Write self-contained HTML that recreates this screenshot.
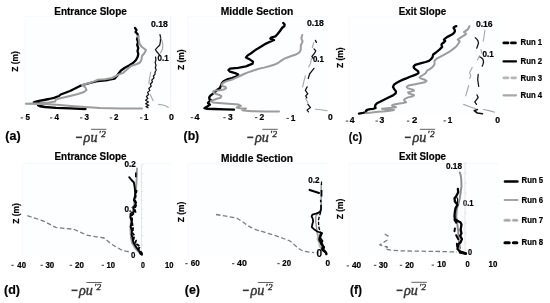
<!DOCTYPE html>
<html><head><meta charset="utf-8"><title>Figure</title>
<style>
html,body{margin:0;padding:0;background:#fff;}
svg{display:block;}
text{font-family:"Liberation Sans",sans-serif;font-weight:bold;fill:#000;stroke:#000;stroke-width:0.2px;}
.t{font-size:10.2px;}
.ax{font-size:8.3px;}
.zl{font-size:8.6px;}
.zt{font-size:8.6px;}
.pl{font-size:12.8px;}
.lg{font-size:8.4px;}
.f{font-family:"Liberation Serif",serif;font-style:italic;font-weight:normal;fill:#333;stroke:#333;stroke-width:0.4px;}
polyline,path,line{fill:none;stroke-linejoin:round;}
.k2,.g4,.k5,.g6{stroke-linecap:round;}
.k2{stroke:#000;stroke-width:2.3;}
.g4{stroke:#9c9c9c;stroke-width:2;}
.k1{stroke:#111;stroke-width:1.25;stroke-linecap:round;}
.g3{stroke:#a9a9a9;stroke-width:1.15;stroke-linecap:round;}
.k5{stroke:#000;stroke-width:1.7;}
.g6{stroke:#9a9a9a;stroke-width:1.5;}
.g7{stroke:#7c7c7c;stroke-width:1.3;stroke-dasharray:4.5 2.5;stroke-linecap:butt;}
.k8{stroke:#000;stroke-width:1.8;stroke-dasharray:3.5 1.5;stroke-linecap:butt;}
.axl{stroke:#d9d9d9;stroke-width:0.7;stroke-linecap:butt;}
.bg{fill:none;stroke:#f4f7fb;stroke-width:0.8;}
</style></head><body>
<svg width="550" height="303" viewBox="0 0 550 303">
<rect x="0" y="0" width="550" height="303" fill="#ffffff"/>

<rect x="25.2" y="16.4" width="147" height="93" fill="#fdfeff"/>
<polyline class="bg" points="25.2,109.4 25.2,16.4 172.2,16.4"/>
<rect x="188" y="16.4" width="140" height="95.5" fill="#fdfeff"/>
<polyline class="bg" points="188,111.9 188,16.4 328,16.4"/>
<rect x="349" y="17" width="148" height="97" fill="#fdfeff"/>
<polyline class="bg" points="349,114 349,17 497,17"/>
<rect x="22.4" y="163.6" width="150" height="93" fill="#fdfeff"/>
<polyline class="bg" points="22.4,256.6 22.4,163.6 172.4,163.6"/>
<rect x="188" y="163.6" width="140" height="93" fill="#fdfeff"/>
<polyline class="bg" points="188,256.6 188,163.6 328,163.6"/>
<rect x="349" y="163.6" width="150" height="93" fill="#fdfeff"/>
<polyline class="bg" points="349,256.6 349,163.6 499,163.6"/>
<text class="t" x="54.3" y="14.5" textLength="72.5" lengthAdjust="spacingAndGlyphs">Entrance Slope</text>
<text class="t" x="220.8" y="14.5" textLength="72.4" lengthAdjust="spacingAndGlyphs">Middle Section</text>
<text class="t" x="398.8" y="14.5" textLength="47.4" lengthAdjust="spacingAndGlyphs">Exit Slope</text>
<text class="t" x="54.5" y="159.8" textLength="72" lengthAdjust="spacingAndGlyphs">Entrance Slope</text>
<text class="t" x="221" y="161.8" textLength="72" lengthAdjust="spacingAndGlyphs">Middle Section</text>
<text class="t" x="399" y="160.4" textLength="47" lengthAdjust="spacingAndGlyphs">Exit Slope</text>
<text class="zl" transform="translate(15.2,61.4) rotate(-90)" text-anchor="middle" textLength="20.5" lengthAdjust="spacingAndGlyphs" y="3">Z (m)</text>
<text class="zl" transform="translate(180.8,59.7) rotate(-90)" text-anchor="middle" textLength="20.5" lengthAdjust="spacingAndGlyphs" y="3">Z (m)</text>
<text class="zl" transform="translate(340.2,57.7) rotate(-90)" text-anchor="middle" textLength="20.5" lengthAdjust="spacingAndGlyphs" y="3">Z (m)</text>
<text class="zl" transform="translate(15.5,213.5) rotate(-90)" text-anchor="middle" textLength="20.5" lengthAdjust="spacingAndGlyphs" y="3">Z (m)</text>
<text class="zl" transform="translate(180.6,212) rotate(-90)" text-anchor="middle" textLength="20.5" lengthAdjust="spacingAndGlyphs" y="3">Z (m)</text>
<text class="zl" transform="translate(340,209) rotate(-90)" text-anchor="middle" textLength="20.5" lengthAdjust="spacingAndGlyphs" y="3">Z (m)</text>
<line x1="20.6" y1="117.9" x2="23" y2="117.9" stroke="#222" stroke-width="0.9" stroke-linecap="butt"/>
<text class="ax" x="25.5" y="120.2" textLength="4.5" lengthAdjust="spacingAndGlyphs">5</text>
<line x1="50" y1="117.9" x2="52.4" y2="117.9" stroke="#222" stroke-width="0.9" stroke-linecap="butt"/>
<text class="ax" x="54.5" y="120.2" textLength="4.5" lengthAdjust="spacingAndGlyphs">4</text>
<line x1="80" y1="117.9" x2="82.4" y2="117.9" stroke="#222" stroke-width="0.9" stroke-linecap="butt"/>
<text class="ax" x="84.5" y="120.2" textLength="4.5" lengthAdjust="spacingAndGlyphs">3</text>
<line x1="109.8" y1="117.9" x2="112.2" y2="117.9" stroke="#222" stroke-width="0.9" stroke-linecap="butt"/>
<text class="ax" x="114" y="120.2" textLength="4.4" lengthAdjust="spacingAndGlyphs">2</text>
<line x1="140" y1="117.9" x2="142.4" y2="117.9" stroke="#222" stroke-width="0.9" stroke-linecap="butt"/>
<text class="ax" x="143.9" y="120.2" textLength="4.4" lengthAdjust="spacingAndGlyphs">1</text>
<text class="ax" x="168.9" y="120.2" textLength="4.9" lengthAdjust="spacingAndGlyphs">0</text>
<line x1="190.7" y1="117.7" x2="193.1" y2="117.7" stroke="#222" stroke-width="0.9" stroke-linecap="butt"/>
<text class="ax" x="194.6" y="120" textLength="5" lengthAdjust="spacingAndGlyphs">4</text>
<line x1="223.3" y1="117.7" x2="225.7" y2="117.7" stroke="#222" stroke-width="0.9" stroke-linecap="butt"/>
<text class="ax" x="227.9" y="120" textLength="4.7" lengthAdjust="spacingAndGlyphs">3</text>
<line x1="255" y1="117.7" x2="257.4" y2="117.7" stroke="#222" stroke-width="0.9" stroke-linecap="butt"/>
<text class="ax" x="259.4" y="120" textLength="4.7" lengthAdjust="spacingAndGlyphs">2</text>
<line x1="286.5" y1="118.4" x2="288.9" y2="118.4" stroke="#222" stroke-width="0.9" stroke-linecap="butt"/>
<text class="ax" x="290.8" y="120.7" textLength="4.6" lengthAdjust="spacingAndGlyphs">1</text>
<text class="ax" x="327.9" y="120" textLength="4.7" lengthAdjust="spacingAndGlyphs">0</text>
<line x1="345.8" y1="121.1" x2="348.2" y2="121.1" stroke="#222" stroke-width="0.9" stroke-linecap="butt"/>
<text class="ax" x="349.7" y="123.4" textLength="4.8" lengthAdjust="spacingAndGlyphs">4</text>
<line x1="375.5" y1="121.1" x2="377.9" y2="121.1" stroke="#222" stroke-width="0.9" stroke-linecap="butt"/>
<text class="ax" x="379.4" y="123.4" textLength="4.8" lengthAdjust="spacingAndGlyphs">3</text>
<line x1="406.9" y1="121.1" x2="409.3" y2="121.1" stroke="#222" stroke-width="0.9" stroke-linecap="butt"/>
<text class="ax" x="411.9" y="123.4" textLength="5.3" lengthAdjust="spacingAndGlyphs">2</text>
<line x1="443.5" y1="120.9" x2="445.9" y2="120.9" stroke="#222" stroke-width="0.9" stroke-linecap="butt"/>
<text class="ax" x="447.8" y="123.2" textLength="4.5" lengthAdjust="spacingAndGlyphs">1</text>
<text class="ax" x="495.3" y="123.2" textLength="4.8" lengthAdjust="spacingAndGlyphs">0</text>
<line x1="11.3" y1="265.3" x2="13.7" y2="265.3" stroke="#222" stroke-width="0.9" stroke-linecap="butt"/>
<text class="ax" x="17.3" y="267.6" textLength="8.7" lengthAdjust="spacingAndGlyphs">40</text>
<line x1="40.5" y1="265.3" x2="42.9" y2="265.3" stroke="#222" stroke-width="0.9" stroke-linecap="butt"/>
<text class="ax" x="45.4" y="267.6" textLength="8.8" lengthAdjust="spacingAndGlyphs">30</text>
<line x1="69.7" y1="265.3" x2="72.1" y2="265.3" stroke="#222" stroke-width="0.9" stroke-linecap="butt"/>
<text class="ax" x="75" y="267.6" textLength="8.9" lengthAdjust="spacingAndGlyphs">20</text>
<line x1="101.6" y1="265.3" x2="104" y2="265.3" stroke="#222" stroke-width="0.9" stroke-linecap="butt"/>
<text class="ax" x="106.5" y="267.6" textLength="8.5" lengthAdjust="spacingAndGlyphs">10</text>
<text class="ax" x="140.9" y="267.6" textLength="3.9" lengthAdjust="spacingAndGlyphs">0</text>
<text class="ax" x="165" y="267.6" textLength="8.4" lengthAdjust="spacingAndGlyphs">10</text>
<line x1="185.3" y1="263.7" x2="187.7" y2="263.7" stroke="#222" stroke-width="0.9" stroke-linecap="butt"/>
<text class="ax" x="190.7" y="266" textLength="9.1" lengthAdjust="spacingAndGlyphs">60</text>
<line x1="232" y1="263.7" x2="234.4" y2="263.7" stroke="#222" stroke-width="0.9" stroke-linecap="butt"/>
<text class="ax" x="237" y="266" textLength="9.8" lengthAdjust="spacingAndGlyphs">40</text>
<line x1="277.3" y1="263.7" x2="279.7" y2="263.7" stroke="#222" stroke-width="0.9" stroke-linecap="butt"/>
<text class="ax" x="282.3" y="266" textLength="8.7" lengthAdjust="spacingAndGlyphs">20</text>
<text class="ax" x="325.4" y="266" textLength="4.6" lengthAdjust="spacingAndGlyphs">0</text>
<line x1="346.6" y1="265.9" x2="349" y2="265.9" stroke="#222" stroke-width="0.9" stroke-linecap="butt"/>
<text class="ax" x="351.9" y="268.2" textLength="9.2" lengthAdjust="spacingAndGlyphs">40</text>
<line x1="373.9" y1="265.3" x2="376.3" y2="265.3" stroke="#222" stroke-width="0.9" stroke-linecap="butt"/>
<text class="ax" x="378.8" y="267.6" textLength="9.1" lengthAdjust="spacingAndGlyphs">30</text>
<line x1="399.8" y1="265.3" x2="402.2" y2="265.3" stroke="#222" stroke-width="0.9" stroke-linecap="butt"/>
<text class="ax" x="405.2" y="267.6" textLength="8.8" lengthAdjust="spacingAndGlyphs">20</text>
<line x1="431.6" y1="265.1" x2="434" y2="265.1" stroke="#222" stroke-width="0.9" stroke-linecap="butt"/>
<text class="ax" x="437.3" y="267.4" textLength="8.7" lengthAdjust="spacingAndGlyphs">10</text>
<text class="ax" x="465.4" y="267.4" textLength="4.2" lengthAdjust="spacingAndGlyphs">0</text>
<text class="ax" x="488.5" y="267.4" textLength="8.8" lengthAdjust="spacingAndGlyphs">10</text>
<text class="ax zt" x="150.9" y="26.8" textLength="16.9" lengthAdjust="spacingAndGlyphs">0.18</text>
<text class="ax zt" x="157.5" y="60.7" textLength="11.2" lengthAdjust="spacingAndGlyphs">0.1</text>
<text class="ax zt" x="307" y="25.9" textLength="16.9" lengthAdjust="spacingAndGlyphs">0.18</text>
<text class="ax zt" x="312.9" y="62.4" textLength="11" lengthAdjust="spacingAndGlyphs">0.1</text>
<text class="ax zt" x="475.9" y="26.8" textLength="16.7" lengthAdjust="spacingAndGlyphs">0.16</text>
<text class="ax zt" x="482.6" y="56.6" textLength="11.2" lengthAdjust="spacingAndGlyphs">0.1</text>
<text class="ax zt" x="124.6" y="167" textLength="11.3" lengthAdjust="spacingAndGlyphs">0.2</text>
<text class="ax zt" x="124.6" y="212.3" textLength="11.3" lengthAdjust="spacingAndGlyphs">0.1</text>
<text class="ax" style="font-size:9.2px" x="131.1" y="258.2" textLength="4.4" lengthAdjust="spacingAndGlyphs">0</text>
<text class="ax zt" x="308.3" y="183.3" textLength="11.2" lengthAdjust="spacingAndGlyphs">0.2</text>
<text class="ax" style="font-size:10.6px" x="316.5" y="257.3" textLength="5.6" lengthAdjust="spacingAndGlyphs">0</text>
<text class="ax zt" x="446" y="169.4" textLength="16" lengthAdjust="spacingAndGlyphs">0.18</text>
<text class="ax zt" x="463" y="206.4" textLength="10.6" lengthAdjust="spacingAndGlyphs">0.1</text>
<text class="ax zt" x="467.9" y="255.3" textLength="4.1" lengthAdjust="spacingAndGlyphs">0</text>
<text class="pl" x="5.3" y="140.4" textLength="15.3" lengthAdjust="spacingAndGlyphs">(a)</text>
<text class="pl" x="183.6" y="140.4" textLength="15.6" lengthAdjust="spacingAndGlyphs">(b)</text>
<text class="pl" x="348.8" y="140.6" textLength="13.2" lengthAdjust="spacingAndGlyphs">(c)</text>
<text class="pl" x="4" y="294.4" textLength="16" lengthAdjust="spacingAndGlyphs">(d)</text>
<text class="pl" x="184.8" y="294.4" textLength="15.2" lengthAdjust="spacingAndGlyphs">(e)</text>
<text class="pl" x="350" y="294.4" textLength="12" lengthAdjust="spacingAndGlyphs">(f)</text>
<g transform="translate(75.6,141.7)"><text class="f" x="-0.3" y="0" font-size="14.2" textLength="7.6" lengthAdjust="spacingAndGlyphs" style="stroke-width:0.9px">−</text><text class="f" x="8" y="0" font-size="14.2">ρ</text><text class="f" x="14.8" y="0" font-size="14.2">u</text><text class="f" x="23.2" y="-4.6" font-size="9.2">′</text><text class="f" x="25.6" y="-4.6" font-size="9.2">2</text><line x1="15.4" y1="-12.4" x2="30.8" y2="-12.4" stroke="#3a3a3a" stroke-width="0.8" stroke-linecap="butt"/></g>
<g transform="translate(246.9,141.7)"><text class="f" x="-0.3" y="0" font-size="14.2" textLength="7.6" lengthAdjust="spacingAndGlyphs" style="stroke-width:0.9px">−</text><text class="f" x="8" y="0" font-size="14.2">ρ</text><text class="f" x="14.8" y="0" font-size="14.2">u</text><text class="f" x="23.2" y="-4.6" font-size="9.2">′</text><text class="f" x="25.6" y="-4.6" font-size="9.2">2</text><line x1="15.4" y1="-12.4" x2="30.8" y2="-12.4" stroke="#3a3a3a" stroke-width="0.8" stroke-linecap="butt"/></g>
<g transform="translate(404.4,141.7)"><text class="f" x="-0.3" y="0" font-size="14.2" textLength="7.6" lengthAdjust="spacingAndGlyphs" style="stroke-width:0.9px">−</text><text class="f" x="8" y="0" font-size="14.2">ρ</text><text class="f" x="14.8" y="0" font-size="14.2">u</text><text class="f" x="23.2" y="-4.6" font-size="9.2">′</text><text class="f" x="25.6" y="-4.6" font-size="9.2">2</text><line x1="15.4" y1="-12.4" x2="30.8" y2="-12.4" stroke="#3a3a3a" stroke-width="0.8" stroke-linecap="butt"/></g>
<g transform="translate(71,294.9)"><text class="f" x="-0.3" y="0" font-size="14.2" textLength="7.6" lengthAdjust="spacingAndGlyphs" style="stroke-width:0.9px">−</text><text class="f" x="8" y="0" font-size="14.2">ρ</text><text class="f" x="14.8" y="0" font-size="14.2">u</text><text class="f" x="23.2" y="-4.6" font-size="9.2">′</text><text class="f" x="25.6" y="-4.6" font-size="9.2">2</text><line x1="15.4" y1="-12.4" x2="30.8" y2="-12.4" stroke="#3a3a3a" stroke-width="0.8" stroke-linecap="butt"/></g>
<g transform="translate(242.4,294.9)"><text class="f" x="-0.3" y="0" font-size="14.2" textLength="7.6" lengthAdjust="spacingAndGlyphs" style="stroke-width:0.9px">−</text><text class="f" x="8" y="0" font-size="14.2">ρ</text><text class="f" x="14.8" y="0" font-size="14.2">u</text><text class="f" x="23.2" y="-4.6" font-size="9.2">′</text><text class="f" x="25.6" y="-4.6" font-size="9.2">2</text><line x1="15.4" y1="-12.4" x2="30.8" y2="-12.4" stroke="#3a3a3a" stroke-width="0.8" stroke-linecap="butt"/></g>
<g transform="translate(396,294.7)"><text class="f" x="-0.3" y="0" font-size="14.2" textLength="7.6" lengthAdjust="spacingAndGlyphs" style="stroke-width:0.9px">−</text><text class="f" x="8" y="0" font-size="14.2">ρ</text><text class="f" x="14.8" y="0" font-size="14.2">u</text><text class="f" x="23.2" y="-4.6" font-size="9.2">′</text><text class="f" x="25.6" y="-4.6" font-size="9.2">2</text><line x1="15.4" y1="-12.4" x2="30.8" y2="-12.4" stroke="#3a3a3a" stroke-width="0.8" stroke-linecap="butt"/></g>
<line class="axl" x1="170.6" y1="16.4" x2="170.6" y2="109" style="stroke:#ebeff4"/>
<line class="axl" x1="141.4" y1="165.5" x2="141.4" y2="256"/>
<line class="axl" x1="141.4" y1="164.7" x2="143.2" y2="164.7"/>
<line class="axl" x1="141.4" y1="173.6" x2="143.2" y2="173.6"/>
<line class="axl" x1="141.4" y1="182.5" x2="143.2" y2="182.5"/>
<line class="axl" x1="141.4" y1="191.4" x2="143.2" y2="191.4"/>
<line class="axl" x1="141.4" y1="200.3" x2="143.2" y2="200.3"/>
<line class="axl" x1="141.4" y1="209.2" x2="143.2" y2="209.2"/>
<line class="axl" x1="141.4" y1="218.1" x2="143.2" y2="218.1"/>
<line class="axl" x1="141.4" y1="227" x2="143.2" y2="227"/>
<line class="axl" x1="141.4" y1="235.9" x2="143.2" y2="235.9"/>
<line class="axl" x1="141.4" y1="244.8" x2="143.2" y2="244.8"/>
<line class="axl" x1="465" y1="163" x2="465" y2="255"/>
<line class="axl" x1="465" y1="163" x2="466.8" y2="163"/>
<line class="axl" x1="465" y1="173" x2="466.8" y2="173"/>
<line class="axl" x1="465" y1="183" x2="466.8" y2="183"/>
<line class="axl" x1="465" y1="193" x2="466.8" y2="193"/>
<line class="axl" x1="465" y1="203" x2="466.8" y2="203"/>
<line class="axl" x1="465" y1="213" x2="466.8" y2="213"/>
<line class="axl" x1="465" y1="223" x2="466.8" y2="223"/>
<line class="axl" x1="465" y1="233" x2="466.8" y2="233"/>
<line class="axl" x1="465" y1="243" x2="466.8" y2="243"/>
<line class="axl" x1="465" y1="253" x2="466.8" y2="253"/>
<polyline class="k2" points="135,28 136.5,30 135.5,32 137.5,34 138.2,36.5 137,39 138,42 137.2,45 138.3,48 137.5,51 138.3,54 137.6,57 136,60 133,63 129,65.5 124.5,68 121,70.5 119,73 117,76 114.5,78.6 108,80 98,81 90,83 81,85.5 75,88.5 70,91 60.7,94.5 59,96 54,97.8 49,99 44,100 39,100.8 36,101.6 33.8,102.3 37,103.2 44,103.8 40,104.6 38,105.2 40,106.3 45,107 56,107.8 70,108.4 85.5,109" />
<polyline class="g4" points="138,36 139,40 139.5,44 142,47 146,50 144.5,53 142,56 141.5,59.5 140,62.5 137,64 131,66 127,69.5 123,73 119,74.4 112,78 105,79.2 98,79.8 94,81.4 90,82.8 82,85 85.5,87.5 86.5,90 84,92 78,94 70,96 63.6,97.5 58,98.8 55.6,99.8 55.2,101.5 49,102.5 40,103.2 25.8,103.7 40,104 49,104.3 60,105.1 71,106 85,107.1 100,108 120,108.4 142,108.5" />
<polyline class="k1" points="155.6,57 155.9,60 155.2,62.5 156,65.3 155.3,67.6 156.2,70 155,72.4 155,74.4 153.4,76 154,77.9 151.8,80 152.4,82 150.4,84 151.2,86.2 148.8,88.4 149.8,90.4 147.6,92.4 148.6,94.5 146.4,96.4 147.8,98.4 145.6,100.2 148.4,102 145.6,103.8 148.8,105.2 146,106.6 148,107.8" stroke-dasharray="14 1 9 1"/>
<polyline class="k1" points="160,34.6 160.6,37.5 160.4,41 159.8,45 157.4,47.4 155.4,49.6 157,52 158.9,54.2 160.2,55.6" />
<polyline class="g3" points="161,38 162,41 162.8,44 162.6,48.8 161.4,51 160.6,53" />
<polyline class="g3" points="150.6,72 150.2,75 149.4,79 148.9,83.4" />
<polyline class="g3" points="150.2,94.5 151.6,97.5 153,100.6" />
<polyline class="g3" points="158.6,104.4 163,105 166,106 168.3,107.4" />
<polyline class="k2" points="283.3,23 284.6,24.6 284.4,26 282,28 280,31 277.6,34 275.4,36.4 271,37.6 270.4,38.6 274,40 270,41.8 266,43.6 262,46 258,48.4 254.6,50.6 251.4,53 247.4,55.6 246,57.4 250,59.6 253,61.6 252.6,63.6 246,66.4 238,67.8 230,68.6 228.4,70 230,71.6 236,73.4 238.2,74.6 236.6,76.4 232,78 227,79.4 223.6,81.2 222,83 221,85.4 220,88 217,90 215.4,91.6 213,93.6 210.4,95.6 209.2,97.4 209.4,99 211,100.2 209,101.6 208,103 210,104.6 207.6,106.2 204.4,108.2 207,108.8 214,109 225,109.3 234,109.6" />
<polyline class="g4" points="302.2,35 301.3,38.5 302.6,41.3 300.8,45.5 300.8,49.6 299.5,52.4 296,54.5 292,55.8 288,57.2 285,58.4 281.6,60.4 278,63 274,64.8 270,66 264,67.6 258,69 252,71 248,72.4 244,74 240,76 236.4,77.6 233,79.2 229.4,80.4 226,81.4 223,83 221.6,84.6 222.4,86 225.6,87 226,88.4 223.6,89.6 220,90.2 215.4,90.4 213.4,91.2 213.4,92.6 216,94 219.6,95 221.4,96.2 220.6,97.8 217,98.8 213.4,100 211,101.2 213,102.4 222,103.2 232,104 238.6,104.6 241,105.8 238,106.8 236.6,107.6 240,108.2 246,108.6 244,109.4 242.4,110.2 246,110.8 252,111.2 265,111.5 279,111.6" />
<polyline class="k1" points="315.4,40.4 316.4,42.4" />
<polyline class="k1" points="314,48.9 315.7,50.7 315.1,52.4 313.4,54.6 311.9,56.5 313.3,58.6" />
<polyline class="k1" points="314,68.3 311.6,71.4 309.6,74 308.2,78.5" />
<polyline class="k1" points="307.1,86.9 305.4,90.3 307.8,93.8 305.7,95.9 306.8,97.9" />
<polyline class="k1" points="307.8,104.2 310.5,107.6 307.1,110.1 308.5,111.8" />
<polyline class="g3" points="313.7,42.7 312.3,47.5" />
<polyline class="g3" points="311.5,58.6 310.5,63.5 308.7,67" />
<polyline class="g3" points="305.4,75.8 304,81 302.6,86.9" />
<polyline class="g3" points="305.7,98.6 307.8,102.8" />
<polyline class="g3" points="315.4,109.3 321,109.8 327.2,110.7" />
<polyline class="k2" points="456.3,26.2 454.4,26.8 453.5,27.9 454.6,29.6 454.9,31.3 454,32.8 452.9,34.1 450,35.6 447.3,36.9 445.4,38.4 443.9,39.6 445.2,41 444.3,42 441.6,44.2 441.6,45.6 442.2,46.9 439.4,49.6 436,52.5 433.2,54.5 432.5,57.3 431,59.2 429,60.8 425.6,62 422.2,62.9 418.6,63.9 415.2,64.9 413.6,66.6 414,68 415.2,69.1 418,71.2 418.5,72.4 418.3,73.2 416.4,74.4 413.9,75.3 410,76.8 406.9,78.1 403,79.6 400,81 396.4,83 394,84.6 393,87 394.4,89.4 396,91.4 395.6,93.4 393,95.4 389,97.2 386,98.8 383,100.2 380,101.8 377,103.2 375.4,105 375,106.6 375.6,108 373,108.8 370,109.2 367,109.8 366,110.6 366.4,112 363,112.8 359,113.6" />
<polyline class="g4" points="469.5,26.2 468.6,28.2 467.4,29.9 465.4,31 463.9,32 465.4,33 466,34.1 462.6,36.4 459.8,38.2 457.7,39.6 458.8,40.6 459.8,41.4 458,44 456.3,46.5 453.6,48.6 450.8,50.8 447,53.2 442.9,55.4 439.6,57.2 436.7,58.7 434.6,60.8 434.4,62.6 434.6,64.2 433.4,66 431.9,67.7 429.4,69.4 427,70.7 425.6,73.2 423,75 420.8,76.3 419.6,77.4 421,78.6 424.2,79.5 426.6,80.8 425,82.2 420,83.2 414,84.4 408.4,85.6 406.8,87 408,88.4 413,89.6 414,90.6 411,91.6 408,92.4 409,93.6 414,95 413,96.2 408,97.4 405,98.8 404,100 405,101.2 406.2,102.2 403,103 398,103.8 393,104.8 392,105.6 394,106.4 396,107.2 392,107.8 385,108.4 382,108.8 386,109.4 394,110 390,110.8 383,111.4 378,111.8 372,112.6 366,113.2" />
<polyline class="k1" points="475.3,37.8 477,39.4 478.1,41.2 478.5,43.3 477.6,45.8 476.7,48.2" />
<polyline class="k1" points="479.5,56.7 481.4,57.8 482.9,59.2 483.6,62 483,64.2 482.2,66.2" />
<polyline class="k1" points="478.2,74.3 477.7,79.5 478.2,83 478.7,86.3" />
<polyline class="k1" points="477,94.9 478.2,97.5 476.4,99.8 474.8,101.8 476.5,104.4" />
<polyline class="k1" points="477.3,109.5 474.2,110.7 477.3,113 482.5,113.8" style="stroke-width:1.6"/>
<polyline class="g3" points="485,30.2 484.4,34 483.8,38 483.2,41.2" />
<polyline class="g3" points="480.9,49.5 482.2,53.7" />
<polyline class="g3" points="479.5,55.8 478.4,58 477.4,60" />
<polyline class="g3" points="472.2,67.4 469.6,72.6 470.8,76 469.6,78.6" />
<polyline class="g3" points="468.7,85.5 467,91.5 465.7,95.8" />
<polyline class="g3" points="463.6,104.4 470.5,107 475.6,108.7" />
<polyline class="g3" points="483.4,109.5 489,110.6 494.5,112.1" />
<polyline class="g7" points="27.3,215.7 35,218.2 43,220.8 50,224.4 55.8,227.4 64,228.4 73.6,229.2 80,232 86.3,235 95,236.6 104,238 108,241.2 111.8,244.4 117,247.4 122,250.3 126,251.2 130,252" />
<polyline class="g6" points="137,168.4 136.8,174 136.6,180 136.3,185 136,190 135,197 134.4,203 134,209 131.4,214 131,218 130.8,222 130.5,230 131,238 132.2,243 135,247.8 138.8,252 141.4,254.4" style="stroke-width:1.9"/>
<polyline class="k5" points="129.2,177.2 131.5,180 133.9,182.5 134.5,186 135,190 135.2,195 133.9,200.3 135.9,203.6 133.2,208.2 134.5,211.5 130.6,213.5 130.3,217.5 131.9,221.4 130.6,226.7 132,230.7 131.6,234.6 132.6,238 133.4,242.5 136.4,247.4 140,252.2 141.7,254.6" style="stroke-width:1.9"/>
<polyline class="k8" points="135.8,172.4 135.8,177.2" style="stroke-dasharray:none;stroke-width:1.6"/>
<polyline class="k8" points="136.6,190 135.6,196 135,200 136.5,204 134.5,209 135.5,212 132,215 132,222 133,228 132.5,233 134.4,235.4 133.5,239 136,240.5 135,243.5 138,245 140,246.5 138.5,249 141,252 142.6,254.6" style="stroke-width:1.9"/>
<path d="M138.6,251.2 L142.4,252.6 L142.8,255.6 L139.6,254.4 Z" style="fill:#000;stroke:none"/>
<polyline class="g7" points="216,214.5 226,216.2 237,218.2 242,221.4 246.4,224.7 251,227.4 255.8,229.6 265,232.4 274.8,235.3 282,238 290,241 294,244.4 297.6,247.8 301,250 303.6,251.2 310,252.2 314,252.6" />
<polyline class="g6" points="321.2,184 321.2,195 321.2,208 320,211 317.6,214 315.7,216.3 315.7,222 316.5,227 317.2,233 318.2,239 319.5,243 320.8,247.8 323,251" />
<polyline class="k5" points="309.6,189.9 314.4,191.4 319,192.9" style="stroke-width:2.1"/>
<polyline class="g6" points="318.9,235 317.7,239 319.4,243 320,246.5" style="stroke:#bdbdbd;stroke-width:2.4"/>
<polyline class="k5" points="320.7,210.8 319.8,212.2 316,213.6 312.4,214.7 311.6,216.3 312.6,218.4 313.2,221.3 312.4,224 311.8,227.2 314.4,229.6 317.3,231.5 321.6,233.2 320.6,235.4 320,237.5 322.5,241 320.8,243.5 322.4,245.4 324.2,247 323.4,250.4 325,251.8 326,253" style="stroke-width:1.8"/>
<polyline class="k5" points="321.6,233.2 320.6,235.4 319.6,238 319.6,240.2 321.4,243 322.9,246 322.3,249.4 324.4,251 325.8,252.3 326.4,254" style="stroke-width:2.5"/>
<polyline class="k8" points="321.5,181.6 321.5,185" style="stroke-dasharray:none;stroke-width:1.2"/>
<polyline class="k8" points="321.5,190 321.5,196.5" style="stroke-dasharray:none;stroke-width:1.8"/>
<polyline class="k8" points="320.7,199.8 320.7,202.3" style="stroke-dasharray:none;stroke-width:1.5"/>
<polyline class="k8" points="321,204.8 321,210.5" style="stroke-dasharray:none;stroke-width:1.7"/>
<polyline class="k8" points="320.8,212 319.4,216 318.5,220 318.6,224 319,228 320,231 321,233" style="stroke-width:1.3"/>
<polyline class="g7" points="384.7,234 388.5,236.4" />
<polyline class="g7" points="387.4,240 383.6,242.4 379.8,244.8 383.6,246 387.4,247 385.5,249.3 392,250.2 400.7,250.9 420,251.2 440,251.5 456.9,252" />
<polyline class="g6" points="459.8,172.4 460.6,175 461.2,178.2 461.5,186.4 460.9,190 460.6,193 459.8,198 458.9,202.2 456.9,208.8 456.2,216.7 456.9,220 457.2,223.3 458.2,231.2 458.9,241.8 460.2,248.4" style="stroke:#8c8c8c;stroke-width:1.9"/>
<polyline class="k5" points="457.9,189 458.2,192.3 456.2,196.2 454.5,198.2 454.9,201.5 457.5,204.8 455.6,208.1 454.9,211.4 454.5,216 454.9,219.3 458.2,221.3 460.4,222.2 461.5,224.6 460.6,229.9 461.5,233.2 460.2,235.8 461.9,239.1 460.6,242.4 458.2,244.4 457.5,249 459.5,251 462,252.4 466,253.6" style="stroke-width:2.3"/>
<polyline class="k5" points="456.2,196.2 457.6,199 457.4,202 457.5,204.8" style="stroke-width:1.1"/>
<polyline class="k8" points="454.5,220 456.2,222.6" style="stroke-dasharray:none;stroke-width:2;stroke-linecap:round"/>
<polyline class="k8" points="454.9,228.6 454.5,231.2" style="stroke-dasharray:none;stroke-width:2;stroke-linecap:round"/>
<polyline class="k8" points="456.2,235.2 457.2,237.2 458.2,239.1" style="stroke-dasharray:none;stroke-width:2;stroke-linecap:round"/>
<polyline class="k8" points="456.9,243.8 457.2,246.4" style="stroke-dasharray:none;stroke-width:2;stroke-linecap:round"/>
<path d="M458.6,250.2 L466.4,252.2 L466.2,255 L458.9,253.4 Z" style="fill:#000;stroke:none"/>
<line x1="503.8" y1="42.9" x2="508" y2="42.9" stroke="#000" stroke-width="2.8" style="stroke-linecap:round"/><line x1="511.4" y1="42.9" x2="515.4" y2="42.9" stroke="#000" stroke-width="2.8" style="stroke-linecap:round"/>
<line x1="503.6" y1="61.4" x2="516" y2="61.4" stroke="#000" stroke-width="2.3" style="stroke-linecap:round"/>
<line x1="503.8" y1="77.8" x2="508" y2="77.8" stroke="#b6b6b6" stroke-width="2.7" style="stroke-linecap:round"/><line x1="511.8" y1="77.8" x2="515.6" y2="77.8" stroke="#b6b6b6" stroke-width="2.7" style="stroke-linecap:round"/>
<line x1="503.6" y1="95.3" x2="516" y2="95.3" stroke="#a8a8a8" stroke-width="2.3" style="stroke-linecap:round"/>
<text class="lg" x="520.6" y="45.3" textLength="21.6" lengthAdjust="spacingAndGlyphs">Run 1</text>
<text class="lg" x="520.6" y="64.1" textLength="21.6" lengthAdjust="spacingAndGlyphs">Run 2</text>
<text class="lg" x="520.6" y="80.5" textLength="21.6" lengthAdjust="spacingAndGlyphs">Run 3</text>
<text class="lg" x="520.6" y="97.9" textLength="21.6" lengthAdjust="spacingAndGlyphs">Run 4</text>
<line x1="505" y1="181.5" x2="517.4" y2="181.5" stroke="#000" stroke-width="2.6" style="stroke-linecap:round"/>
<line x1="504.6" y1="200" x2="517.6" y2="200" stroke="#a4a4a4" stroke-width="1.9" style="stroke-linecap:round"/>
<line x1="505" y1="220.3" x2="509.2" y2="220.3" stroke="#bcbcbc" stroke-width="3.1" style="stroke-linecap:round"/><line x1="513.4" y1="220.3" x2="516.8" y2="220.3" stroke="#bcbcbc" stroke-width="3.1" style="stroke-linecap:round"/>
<line x1="505" y1="220.3" x2="509.2" y2="220.3" stroke="#9c9c9c" stroke-width="1" style="stroke-linecap:round"/><line x1="513.4" y1="220.3" x2="516.8" y2="220.3" stroke="#9c9c9c" stroke-width="1" style="stroke-linecap:round"/>
<line x1="505" y1="242.8" x2="509.2" y2="242.8" stroke="#000" stroke-width="3.1" style="stroke-linecap:round"/><line x1="513.4" y1="242.8" x2="516.8" y2="242.8" stroke="#000" stroke-width="3.1" style="stroke-linecap:round"/>
<text class="lg" x="521.5" y="183.1" textLength="21.7" lengthAdjust="spacingAndGlyphs">Run 5</text>
<text class="lg" x="521.5" y="202.8" textLength="21.7" lengthAdjust="spacingAndGlyphs">Run 6</text>
<text class="lg" x="521.5" y="223.1" textLength="21.7" lengthAdjust="spacingAndGlyphs">Run 7</text>
<text class="lg" x="521.5" y="245.3" textLength="21.7" lengthAdjust="spacingAndGlyphs">Run 8</text>
</svg>
</body></html>
